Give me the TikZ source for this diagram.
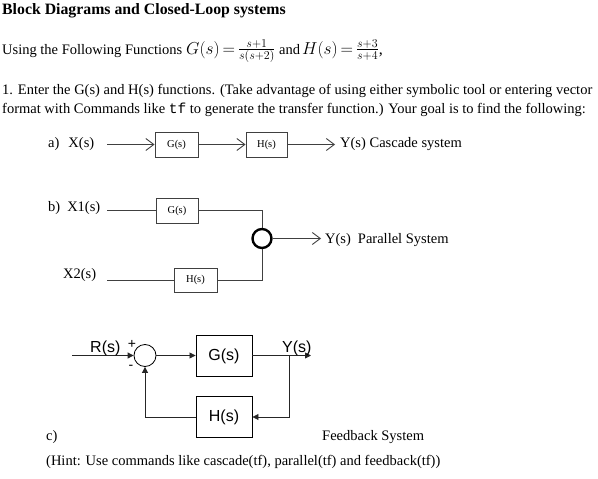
\documentclass[tikz,border=0pt]{standalone}
\usepackage{fontspec}
\setmainfont{Liberation Serif}
\setsansfont{Liberation Sans}
\setmonofont{Liberation Mono}
\DeclareMathSizes{16}{16}{12}{9}
\usetikzlibrary{arrows.meta}
\begin{document}
\begin{tikzpicture}[x=1pt,y=-1pt,
  txt/.style={anchor=base west,inner sep=0pt,font=\fontsize{14.5}{17}\selectfont},
  mth/.style={anchor=base west,inner sep=0pt,font=\fontsize{16}{19}\selectfont},
  ttl/.style={anchor=base west,inner sep=0pt,font=\bfseries\fontsize{15.8}{19}\selectfont},
  sans/.style={anchor=base west,inner sep=0pt,font=\sffamily\fontsize{16}{19}\selectfont},
  sign/.style={inner sep=0pt,font=\sffamily\fontsize{14}{16}\selectfont},
  smallbox/.style={draw=black!75,line width=0.9pt,inner sep=0pt,font=\fontsize{10.5}{12}\selectfont},
  bigbox/.style={draw=black,line width=0.9pt,inner sep=0pt,minimum width=56pt,minimum height=41pt,font=\sffamily\fontsize{16}{19}\selectfont},
  wire/.style={draw=black!75,line width=0.9pt},
  barb/.style={wire,-{Straight Barb[length=8pt,width=12pt]}},
  fb/.style={draw=black!85,line width=0.8pt},
  tri/.style={fb,-{Triangle[length=6pt,width=6pt]}}
]
\useasboundingbox (0,0) rectangle (598,479);
% header text
\node[ttl] (title) at (2,15) {Block Diagrams and Closed-Loop systems};
\node[txt] (using) at (2,54) {Using the Following Functions};
\node[mth] (geq) at (186,54) {$G(s)\,{=}\,\frac{s+1}{s(s+2)}$};
\node[txt] (and) at (279,54) {and};
\node[mth] (heq) at (302,54) {$H(s)\,{=}\,\frac{s+3}{s+4}$,};
\node[txt] (l3) at (2,94) {1. Enter the G(s) and H(s) functions. (Take advantage of using either symbolic tool or entering vector};
\node[txt] (l4) at (2,113) {format with Commands like \texttt{tf} to generate the transfer function.) Your goal is to find the following:};
% part a
\node[txt] (la) at (48,147) {a)\hspace{9pt}X(s)};
\node[smallbox,minimum width=43pt,minimum height=25pt] (ga) at (176.5,144.5) {G(s)};
\node[smallbox,minimum width=41pt,minimum height=25pt] (ha) at (266.5,144.5) {H(s)};
\coordinate (ain) at (107,144.5);
\coordinate (aout) at (335,144.5);
\draw[barb] (ain) -- (ga.west);
\draw[barb] (ga.east) -- (ha.west);
\draw[barb] (ha.east) -- (aout);
\node[txt] (ya) at (340,147) {Y(s) Cascade system};
% part b
\node[txt] (lb) at (48,211) {b)\hspace{7pt}X1(s)};
\node[txt] (lb2) at (63,278.5) {X2(s)};
\node[smallbox,minimum width=42pt,minimum height=25pt] (gb) at (177,210.5) {G(s)};
\node[smallbox,minimum width=43pt,minimum height=24pt] (hb) at (195.5,280) {H(s)};
\node[circle,draw=black,line width=2.4pt,minimum size=19pt,inner sep=0pt] (sb) at (262,238.5) {};
\coordinate (b1in) at (107,210.5);
\coordinate (b2in) at (107,280);
\coordinate (bout) at (321,238.5);
\draw[wire] (b1in) -- (gb.west);
\draw[wire] (gb.east) -| (sb.north);
\draw[wire] (b2in) -- (hb.west);
\draw[wire] (hb.east) -| (sb.south);
\draw[barb] (sb.east) -- (bout);
\node[txt] (yb) at (325,243) {Y(s)\hspace{7pt}Parallel System};
% part c
\node[circle,draw=black,line width=0.8pt,minimum size=22pt,inner sep=0pt] (sum) at (145,355.5) {};
\node[bigbox] (gc) at (224,356) {G(s)};
\node[bigbox] (hc) at (224,417) {H(s)};
\coordinate (rin) at (72,355.5);
\coordinate (yout) at (311,355.5);
\coordinate (br) at (289,355.5);
\draw[tri] (rin) -- (sum.west);
\draw[tri] (sum.east) -- (gc.west |- sum.east);
\draw[tri] (gc.east |- yout) -- (yout);
\draw[tri] (br) |- (hc.east);
\draw[tri] (hc.west) -| (sum.south);
\node[sans] (rs) at (90,352) {R(s)};
\node[sans] (ys) at (282,352) {Y(s)};
\node[sign] (plus) at (132,344) {+};
\node[sign] (minus) at (131,367) {-};
\node[txt] (lc) at (46,440) {c)};
\node[txt] (fbs) at (322,440) {Feedback System};
\node[txt] (hint) at (46,465) {(Hint: Use commands like cascade(tf), parallel(tf) and feedback(tf))};
\end{tikzpicture}
\end{document}
